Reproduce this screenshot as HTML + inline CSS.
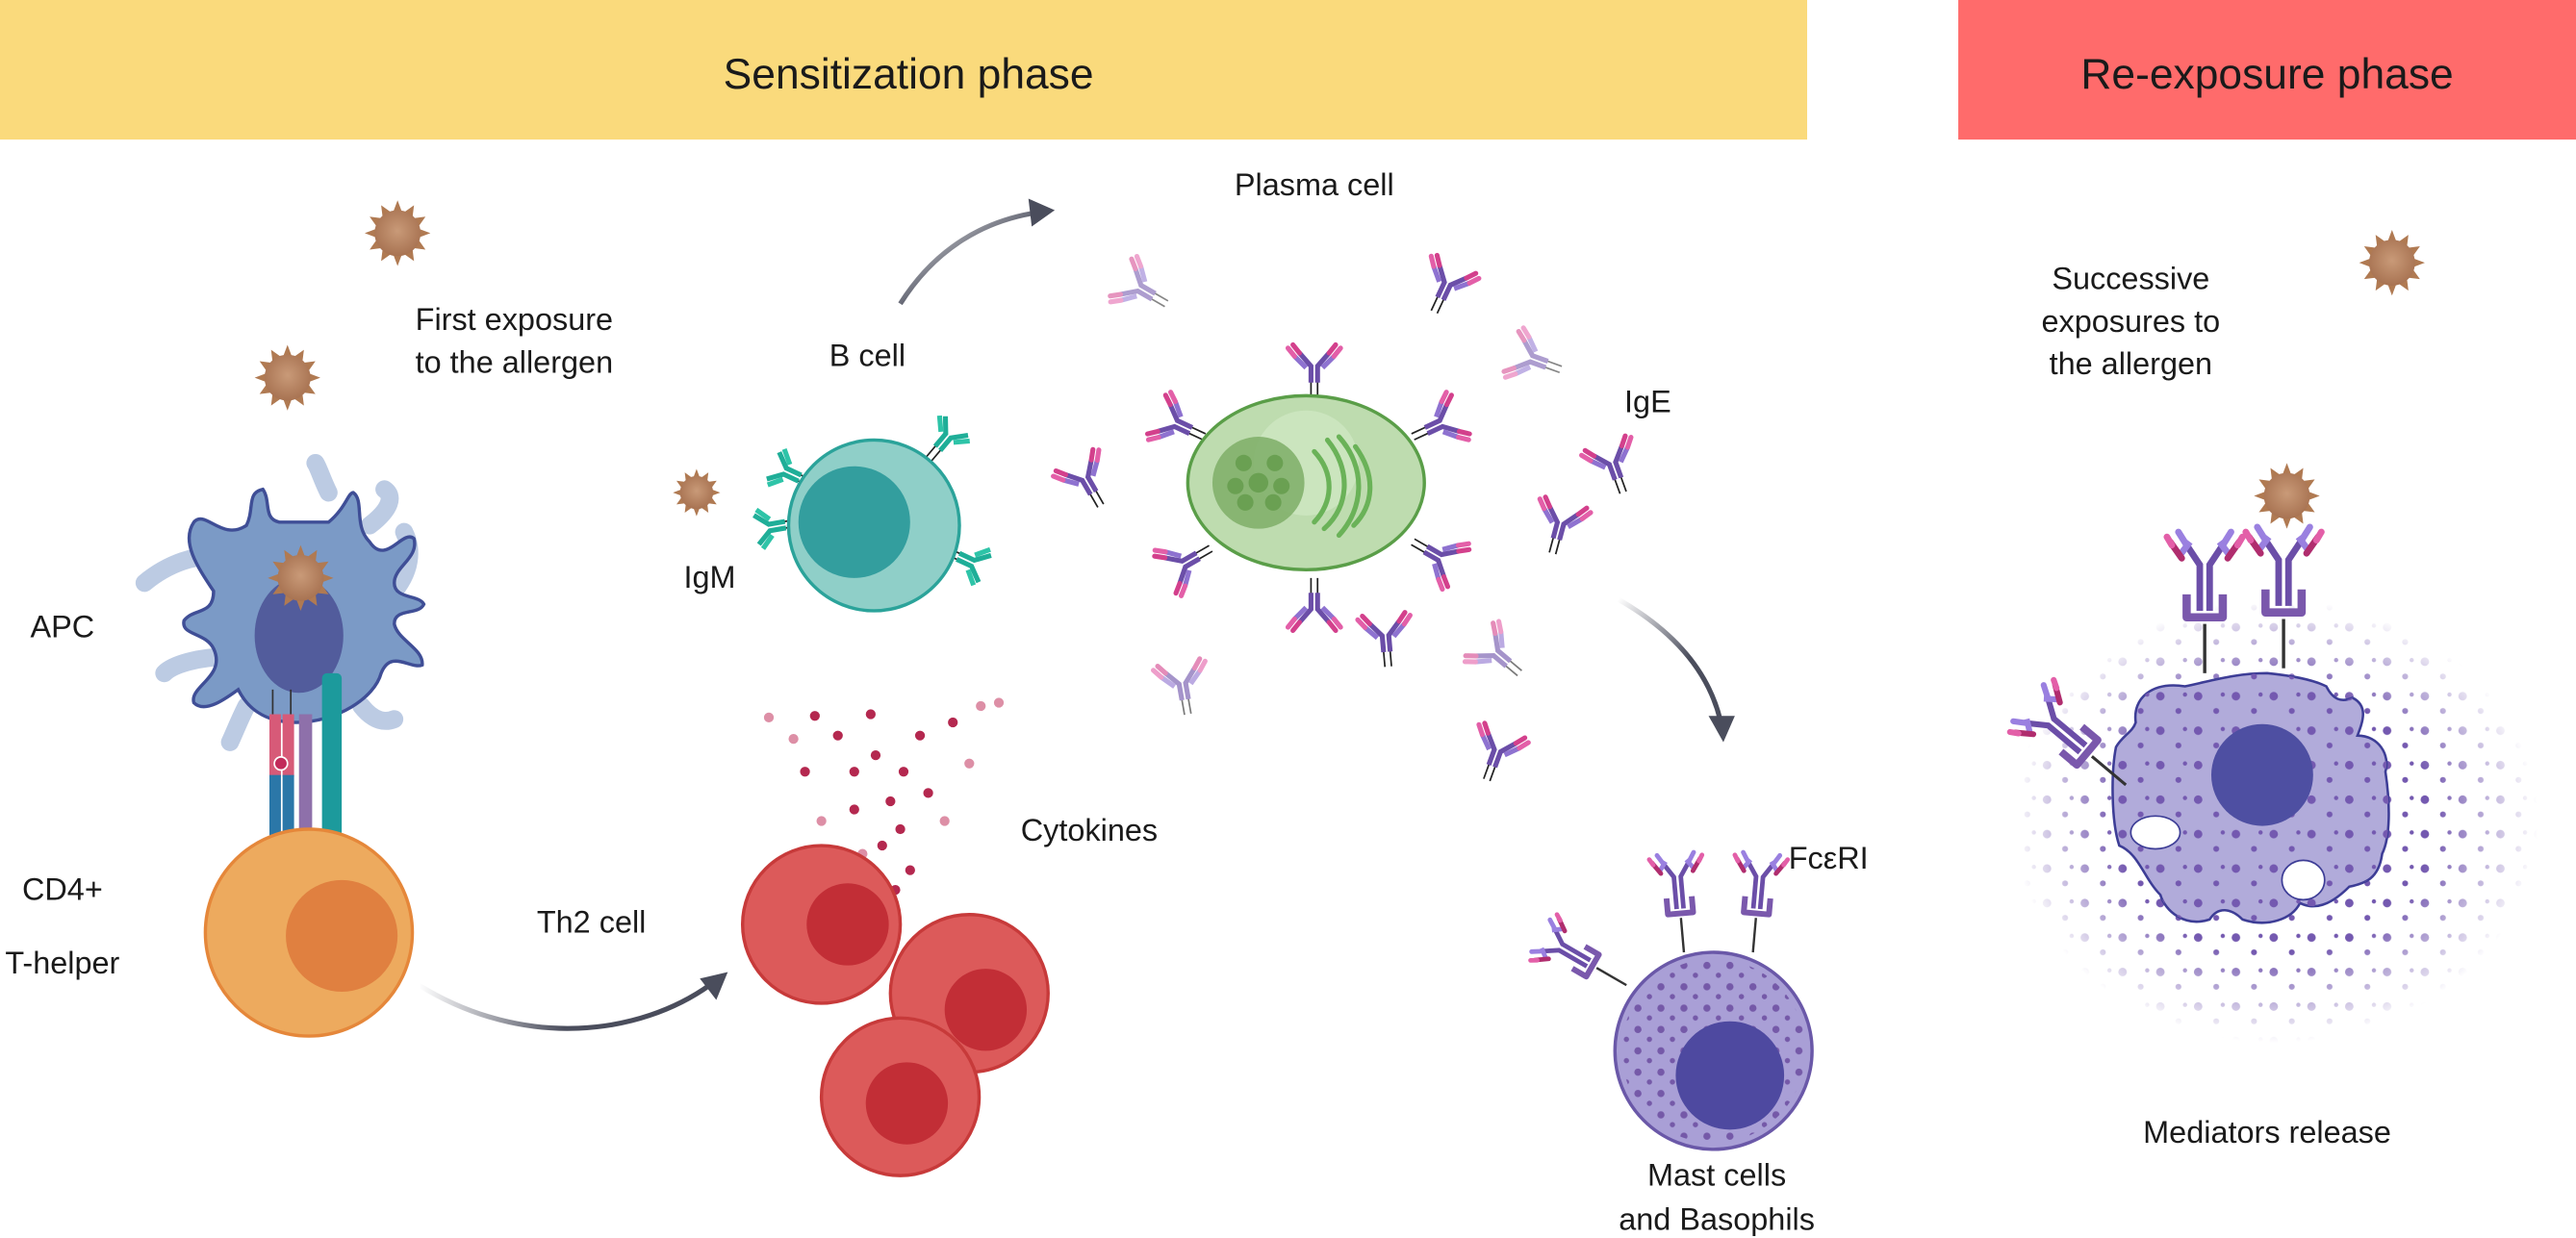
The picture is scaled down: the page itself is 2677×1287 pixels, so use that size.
<!DOCTYPE html>
<html><head><meta charset="utf-8"><style>
html,body{margin:0;padding:0;background:#fff}
svg{display:block}
text{font-family:"Liberation Sans",sans-serif;fill:#1a1a1a}
</style></head><body>
<svg width="2677" height="1287" viewBox="0 0 1568 754" preserveAspectRatio="none" xmlns="http://www.w3.org/2000/svg">
<defs>
<radialGradient id="pol" cx="50%" cy="45%" r="55%"><stop offset="0" stop-color="#c99a78"/><stop offset="1" stop-color="#a87352"/></radialGradient>
<g id="allergen">
<polygon points="0,-20 3,-12 10,-17 9,-9 17,-10 12,-3 20,0 12,3 17,10 9,9 10,17 3,12 0,20 -3,12 -10,17 -9,9 -17,10 -12,3 -20,0 -12,-3 -17,-10 -9,-9 -10,-17 -3,-12" fill="#b07a52"/>
<circle r="14" fill="url(#pol)"/>
</g>
<g id="ab">
<path d="M-2,0 V-10 M2,0 V-10" stroke="#222" stroke-width="1"/>
<path d="M-2,-9 V-19 L-9,-27 M2,-9 V-19 L9,-27" stroke="#6b4ea8" stroke-width="3" fill="none"/>
<path d="M-5,-18 L-12,-25 M5,-18 L12,-25" stroke="#8e72d0" stroke-width="3"/>
<path d="M-9,-27 L-13,-32 M9,-27 L13,-32" stroke="#d3408c" stroke-width="3" stroke-linecap="round"/>
<path d="M-12,-25 L-16,-30 M12,-25 L16,-30" stroke="#e35fa8" stroke-width="3" stroke-linecap="round"/>
</g>
<g id="fce">
<path d="M0,0 V-30" stroke="#333" stroke-width="2"/>
<path d="M-11,-48 V-34 H11 V-48" stroke="#7a58ac" stroke-width="5" fill="none" stroke-linejoin="round"/>
<path d="M-3,-38 V-66 L-11,-78 M3,-38 V-66 L11,-78" stroke="#6b4ea8" stroke-width="4" fill="none"/>
<path d="M-15,-72 L-9,-80 M15,-72 L9,-80" stroke="#9a80e0" stroke-width="4"/>
<path d="M-11,-78 L-16,-86 M11,-78 L16,-86" stroke="#9a80e0" stroke-width="4" stroke-linecap="round"/>
<path d="M-14,-70 L-21,-80 M14,-70 L21,-80" stroke="#b02d6e" stroke-width="4" stroke-linecap="round"/>
<path d="M-20,-78 L-23,-83 M20,-78 L23,-83" stroke="#e35fa8" stroke-width="4" stroke-linecap="round"/>
</g>
<g id="abG">
<path d="M-2,0 V-10 M2,0 V-10" stroke="#222" stroke-width="1"/>
<path d="M-2,-9 V-19 L-9,-27 M2,-9 V-19 L9,-27" stroke="#1fae98" stroke-width="3" fill="none"/>
<path d="M-5,-18 L-12,-25 M5,-18 L12,-25" stroke="#2ec4a8" stroke-width="3"/>
</g>
<pattern id="dots" width="14" height="13" patternUnits="userSpaceOnUse">
<circle cx="3" cy="3" r="2.2" fill="#7559a8"/><circle cx="10" cy="9" r="1.6" fill="#7559a8"/>
</pattern>
<pattern id="dots2" width="23" height="21" patternUnits="userSpaceOnUse">
<circle cx="4" cy="4" r="2.6" fill="#7459b0"/><circle cx="15" cy="13" r="1.8" fill="#7459b0"/><circle cx="19" cy="3" r="1.3" fill="#7459b0"/>
</pattern>
<radialGradient id="fade"><stop offset="0" stop-color="#fff"/><stop offset=".6" stop-color="#fff"/><stop offset="1" stop-color="#000"/></radialGradient>
<mask id="fm"><ellipse cx="1385" cy="500" rx="160" ry="135" fill="url(#fade)"/></mask>
<linearGradient id="arrg" x1="0" x2="1"><stop offset="0" stop-color="#4a4d5c" stop-opacity="0"/><stop offset=".5" stop-color="#4a4d5c"/></linearGradient>
<linearGradient id="arrg2" x1="0" y1="0" x2="1" y2="1"><stop offset="0" stop-color="#4a4d5c" stop-opacity="0"/><stop offset=".6" stop-color="#4a4d5c"/></linearGradient>
</defs>

<rect x="0" y="0" width="1100" height="85" fill="#fada7c"/>
<text x="553" y="54" font-size="26" text-anchor="middle">Sensitization phase</text>
<rect x="1192" y="0" width="376" height="85" fill="#ff6b6b"/>
<text x="1380" y="54" font-size="26" text-anchor="middle">Re-exposure  phase</text>

<use href="#allergen" transform="translate(242,142)"/>
<use href="#allergen" transform="translate(175,230)"/>
<use href="#allergen" transform="translate(424,300) scale(.72)"/>
<use href="#allergen" transform="translate(1456,160)"/>

<text font-size="19" text-anchor="middle"><tspan x="313" y="201">First exposure</tspan><tspan x="313" y="227">to the allergen</tspan></text>
<text x="528" y="223" font-size="19" text-anchor="middle">B cell</text>
<text x="800" y="119" font-size="19" text-anchor="middle">Plasma cell</text>
<text x="1003" y="251" font-size="19" text-anchor="middle">IgE</text>
<text x="432" y="358" font-size="19" text-anchor="middle">IgM</text>
<text x="38" y="388" font-size="19" text-anchor="middle">APC</text>
<text font-size="19" text-anchor="middle"><tspan x="38" y="548">CD4+</tspan><tspan x="38" y="593">T-helper</tspan></text>
<text x="360" y="568" font-size="19" text-anchor="middle">Th2 cell</text>
<text x="663" y="512" font-size="19" text-anchor="middle">Cytokines</text>
<text x="1113" y="529" font-size="19" text-anchor="middle">FcεRI</text>
<text font-size="19" text-anchor="middle"><tspan x="1045" y="722">Mast cells</tspan><tspan x="1045" y="749">and Basophils</tspan></text>
<text font-size="19" text-anchor="middle"><tspan x="1297" y="176">Successive</tspan><tspan x="1297" y="202">exposures to</tspan><tspan x="1297" y="228">the allergen</tspan></text>
<text x="1380" y="696" font-size="19" text-anchor="middle">Mediators release</text>

<!-- APC -->
<g stroke="#bccbe3" stroke-width="11" stroke-linecap="round" fill="none">
<path d="M140,340 C120,335 100,345 88,355"/><path d="M225,320 C238,310 240,302 234,298"/><path d="M240,360 C252,345 250,332 246,324"/>
<path d="M140,400 C120,400 105,405 100,410"/><path d="M150,430 C145,440 142,448 140,452"/><path d="M220,430 C228,440 235,440 240,438"/><path d="M200,300 C196,292 194,285 192,282"/>
</g>
<path d="M130,360 C120,345 110,330 118,318 C125,310 135,330 150,320 C155,310 150,300 160,298 C165,305 160,316 170,318 L200,318 C210,310 212,300 215,300 C222,305 215,320 225,330 C235,345 245,322 252,328 C255,340 240,345 240,355 C240,365 255,362 258,368 C255,375 240,370 240,380 C242,390 258,395 257,405 C250,408 238,395 232,410 C228,425 205,440 180,440 C160,440 150,430 145,420 C138,425 125,435 118,428 C115,418 138,412 130,395 C125,385 110,387 112,378 C118,370 130,375 130,360Z" fill="#7b9ac6" stroke="#3f4e96" stroke-width="2"/>
<ellipse cx="182" cy="387" rx="27" ry="35" fill="#525c9c"/>
<use href="#allergen" transform="translate(183,352)"/>
<rect x="164" y="435" width="7" height="38" fill="#d75a78"/><rect x="172" y="435" width="7" height="38" fill="#d75a78"/>
<circle cx="171" cy="465" r="4" fill="#c22b5a" stroke="#fff"/>
<rect x="164" y="472" width="7" height="42" fill="#2b77a8"/><rect x="172" y="472" width="7" height="42" fill="#2b77a8"/>
<rect x="182" y="435" width="8" height="85" fill="#8e70aa"/>
<rect x="196" y="410" width="12" height="100" rx="3" fill="#1c9a9c"/>
<path d="M166,420 V435 M177,420 V435 M166,514 V530 M177,514 V530 M186,520 V530 M199,510 V534 M204,510 V534" stroke="#333" stroke-width="1"/>
<circle cx="188" cy="568" r="63" fill="#edaa5e" stroke="#e5873a" stroke-width="2"/>
<circle cx="208" cy="570" r="34" fill="#e08040"/>

<!-- B cell -->
<use href="#abG" transform="translate(495,295) rotate(-65)"/>
<use href="#abG" transform="translate(487,318) rotate(-100)"/>
<use href="#abG" transform="translate(565,280) rotate(40)"/>
<use href="#abG" transform="translate(575,335) rotate(115)"/>
<circle cx="532" cy="320" r="52" fill="#8fcfc8" stroke="#2ba39a" stroke-width="2"/>
<circle cx="520" cy="318" r="34" fill="#339e9e"/>

<path d="M548,185 C570,150 600,135 628,130" stroke="url(#arrg2)" stroke-width="3" fill="none"/>
<polygon points="642,128 626,121 628,138" fill="#4a4d5c"/>
<path d="M255,600 C320,640 390,630 432,600" stroke="url(#arrg)" stroke-width="3" fill="none"/>
<polygon points="443,592 426,596 436,609" fill="#4a4d5c"/>
<path d="M985,365 C1020,385 1040,410 1047,438" stroke="url(#arrg2)" stroke-width="3" fill="none"/>
<polygon points="1049,452 1040,436 1056,436" fill="#4a4d5c"/>

<!-- plasma cell -->
<use href="#ab" transform="translate(800,242)"/>
<use href="#ab" transform="translate(800,352) rotate(180)"/>
<use href="#ab" transform="translate(733,266) rotate(-65)"/>
<use href="#ab" transform="translate(860,266) rotate(65)"/>
<use href="#ab" transform="translate(737,334) rotate(-120)"/>
<use href="#ab" transform="translate(860,330) rotate(120)"/>
<ellipse cx="795" cy="294" rx="72" ry="53" fill="#bedcaf" stroke="#5a9e48" stroke-width="2"/>
<circle cx="795" cy="282" r="32" fill="#d0e8c4" opacity=".7"/>
<circle cx="766" cy="294" r="28" fill="#82b06c" opacity=".9"/>
<g fill="#6aa052"><circle cx="766" cy="294" r="6"/><circle cx="757" cy="282" r="5"/><circle cx="776" cy="282" r="5"/><circle cx="752" cy="296" r="5"/><circle cx="780" cy="296" r="5"/><circle cx="758" cy="306" r="5"/><circle cx="775" cy="306" r="5"/></g>
<g stroke="#6ab258" stroke-width="3" fill="none" stroke-linecap="round"><path d="M800,275 C812,288 812,305 800,318"/><path d="M808,268 C822,285 822,308 806,322"/><path d="M815,266 C832,285 830,310 815,326"/><path d="M825,272 C838,290 836,308 824,320"/></g>
<use href="#ab" transform="translate(710,185) rotate(-60)" opacity=".55"/>
<use href="#ab" transform="translate(873,190) rotate(25)"/>
<use href="#ab" transform="translate(950,225) rotate(-70)" opacity=".55"/>
<use href="#ab" transform="translate(670,308) rotate(-30)"/>
<use href="#ab" transform="translate(988,300) rotate(-20)"/>
<use href="#ab" transform="translate(945,337) rotate(15)"/>
<use href="#ab" transform="translate(723,435) rotate(-10)" opacity=".6"/>
<use href="#ab" transform="translate(845,406) rotate(-5)"/>
<use href="#ab" transform="translate(925,410) rotate(-50)" opacity=".6"/>
<use href="#ab" transform="translate(905,475) rotate(20)"/>

<g fill="#b4284f">
<circle cx="496" cy="436" r="3"/><circle cx="510" cy="448" r="3"/><circle cx="520" cy="470" r="3"/><circle cx="533" cy="460" r="3"/><circle cx="550" cy="470" r="3"/><circle cx="542" cy="488" r="3"/><circle cx="520" cy="493" r="3"/><circle cx="565" cy="483" r="3"/><circle cx="537" cy="515" r="3"/><circle cx="554" cy="530" r="3"/><circle cx="548" cy="505" r="3"/><circle cx="560" cy="448" r="3"/><circle cx="580" cy="440" r="3"/><circle cx="530" cy="435" r="3"/><circle cx="490" cy="470" r="3"/><circle cx="545" cy="542" r="3"/></g>
<g fill="#dd8fa6"><circle cx="468" cy="437" r="3"/><circle cx="483" cy="450" r="3"/><circle cx="597" cy="430" r="3"/><circle cx="608" cy="428" r="3"/><circle cx="500" cy="500" r="3"/><circle cx="575" cy="500" r="3"/><circle cx="525" cy="520" r="3"/><circle cx="590" cy="465" r="3"/></g>
<g stroke="#c73a3a" stroke-width="2" fill="#dc5a5a">
<circle cx="500" cy="563" r="48"/><circle cx="590" cy="605" r="48"/><circle cx="548" cy="668" r="48"/></g>
<g fill="#c22e36"><circle cx="516" cy="563" r="25"/><circle cx="600" cy="615" r="25"/><circle cx="552" cy="672" r="25"/></g>

<!-- mast cell -->
<use href="#fce" transform="translate(1025,580) rotate(-5) scale(.7)"/>
<use href="#fce" transform="translate(1067,580) rotate(5) scale(.7)"/>
<use href="#fce" transform="translate(990,600) rotate(-60) scale(.7)"/>
<circle cx="1043" cy="640" r="60" fill="#a99fd6" stroke="#6a58a8" stroke-width="2"/>
<circle cx="1043" cy="640" r="56" fill="url(#dots)"/>
<circle cx="1053" cy="655" r="33" fill="#4e49a0"/>

<!-- degranulating cell -->
<rect x="1200" y="340" width="370" height="300" fill="url(#dots2)" mask="url(#fm)"/>
<path d="M1300,440 C1298,425 1310,415 1330,418 C1345,415 1360,410 1380,410 C1400,412 1410,415 1416,418 C1420,426 1425,428 1432,425 C1442,430 1438,440 1435,448 C1448,448 1455,460 1452,470 C1455,490 1455,510 1450,520 C1448,535 1440,538 1430,540 C1420,550 1410,555 1400,550 C1395,560 1380,565 1365,560 C1358,553 1350,552 1345,560 C1330,565 1318,555 1315,545 C1305,535 1302,520 1290,515 C1285,500 1285,470 1288,455 C1292,448 1298,446 1300,440Z" fill="#b1abda" stroke="#3d3d96" stroke-width="1.5"/>
<path d="M1300,440 C1298,425 1310,415 1330,418 C1345,415 1360,410 1380,410 C1400,412 1410,415 1416,418 C1420,426 1425,428 1432,425 C1442,430 1438,440 1435,448 C1448,448 1455,460 1452,470 C1455,490 1455,510 1450,520 C1448,535 1440,538 1430,540 C1420,550 1410,555 1400,550 C1395,560 1380,565 1365,560 C1358,553 1350,552 1345,560 C1330,565 1318,555 1315,545 C1305,535 1302,520 1290,515 C1285,500 1285,470 1288,455 C1292,448 1298,446 1300,440Z" fill="url(#dots2)"/>
<ellipse cx="1312" cy="507" rx="15" ry="10" fill="#fff" stroke="#3d3d96"/>
<ellipse cx="1402" cy="536" rx="13" ry="12" fill="#fff" stroke="#3d3d96"/>
<circle cx="1377" cy="472" r="31" fill="#4e4fa2"/>
<use href="#fce" transform="translate(1342,410) scale(1)"/>
<use href="#fce" transform="translate(1390,407) scale(1)"/>
<use href="#fce" transform="translate(1294,478) rotate(-50) scale(.9)"/>
<use href="#allergen" transform="translate(1392,302)"/>
</svg>
</body></html>
